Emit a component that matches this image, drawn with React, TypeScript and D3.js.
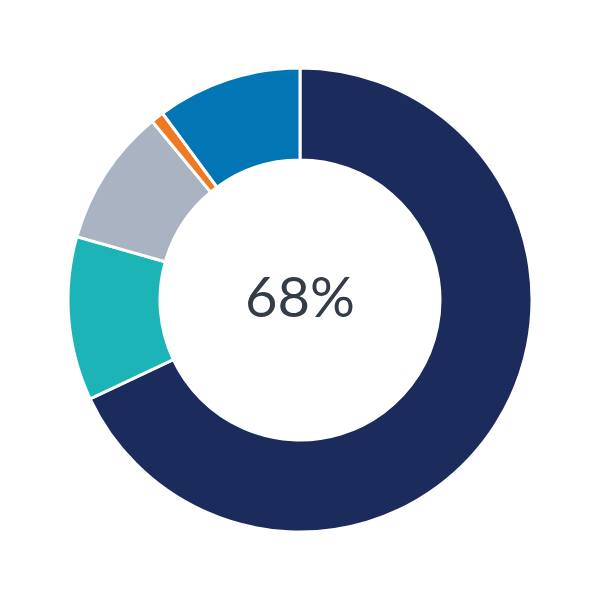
import React from "react";
import * as d3 from "d3";

const categories = ["A", "B", "C", "D", "E"];
const values = [68, 11.4, 9.6, 0.9, 10.1];
const colors = ["#1b2b5c", "#1db4b7", "#a9b3c1", "#ef7a23", "#0275b4"];
const centerLabel = "68%";

export default function App() {
  const width = 600, height = 600;
  const cx = 300, cy = 300;
  const outer = 232, inner = 140;
  const pie = d3.pie<number>().sort(null).value((d) => d)(values);
  const arc = d3.arc<d3.PieArcDatum<number>>().innerRadius(inner).outerRadius(outer);
  return (
    <svg width={width} height={height} style={{ position: "absolute", left: 0, top: 0 }}>
      <rect width={width} height={height} fill="#fff" />
      <g transform={`translate(${cx},${cy})`}>
        {pie.map((p, i) => (
          <path key={categories[i]} d={arc(p) || ""} fill={colors[i]} stroke="#fff" strokeWidth={3} strokeLinejoin="miter" />
        ))}
        <text x={0} y={0} dy="0.3em" textAnchor="middle" fontFamily="Lato" fontWeight={400} fontSize={56} fill="#333c47">
          {centerLabel}
        </text>
      </g>
    </svg>
  );
}
